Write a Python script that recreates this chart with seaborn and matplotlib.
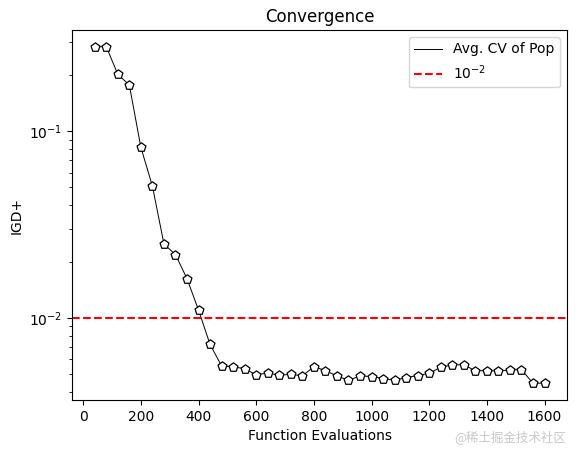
import numpy as np
import pandas as pd
import matplotlib
matplotlib.use("Agg")
import matplotlib.pyplot as plt
import seaborn as sns

# function evaluations and IGD+ values
evals = list(range(40, 1601, 40))
igd = [0.284, 0.284, 0.202, 0.177, 0.082, 0.0508, 0.0249, 0.0218, 0.0162, 0.0110,
       0.00719, 0.00552, 0.00545, 0.00534, 0.00494, 0.00506, 0.00491, 0.00498, 0.00488, 0.00547,
       0.00521, 0.00488, 0.00462, 0.00488, 0.00484, 0.00472, 0.00462, 0.00478, 0.00490, 0.00504,
       0.00543, 0.00558, 0.00561, 0.00519, 0.00521, 0.00517, 0.00525, 0.00527, 0.00446, 0.00446]
threshold = 1e-2

df = pd.DataFrame({"evals": evals, "igd": igd})

fig, ax = plt.subplots(figsize=(5.78, 4.53), dpi=100)
fig.subplots_adjust(left=0.125, right=0.981, top=0.934, bottom=0.117)

sns.lineplot(data=df, x="evals", y="igd", ax=ax, color="black", linewidth=0.7,
             label="Avg. CV of Pop")
sns.scatterplot(data=df, x="evals", y="igd", ax=ax, marker="p", s=45,
                facecolor="white", edgecolor="black", linewidth=0.9, zorder=3)
ax.axhline(threshold, color="red", linestyle="--", linewidth=1.5, label=r"$10^{-2}$")

ax.set_yscale("log")
ax.set_title("Convergence")
ax.set_xlabel("Function Evaluations")
ax.set_ylabel("IGD+")
ax.legend(loc="upper right")

fig.text(0.98, 0.035, "@稀土掘金技术社区", ha="right", va="center", fontsize=9,
         color="#c8c8c8", family=["Noto Sans CJK SC", "DejaVu Sans"])

fig.savefig("out.png", dpi=100)
